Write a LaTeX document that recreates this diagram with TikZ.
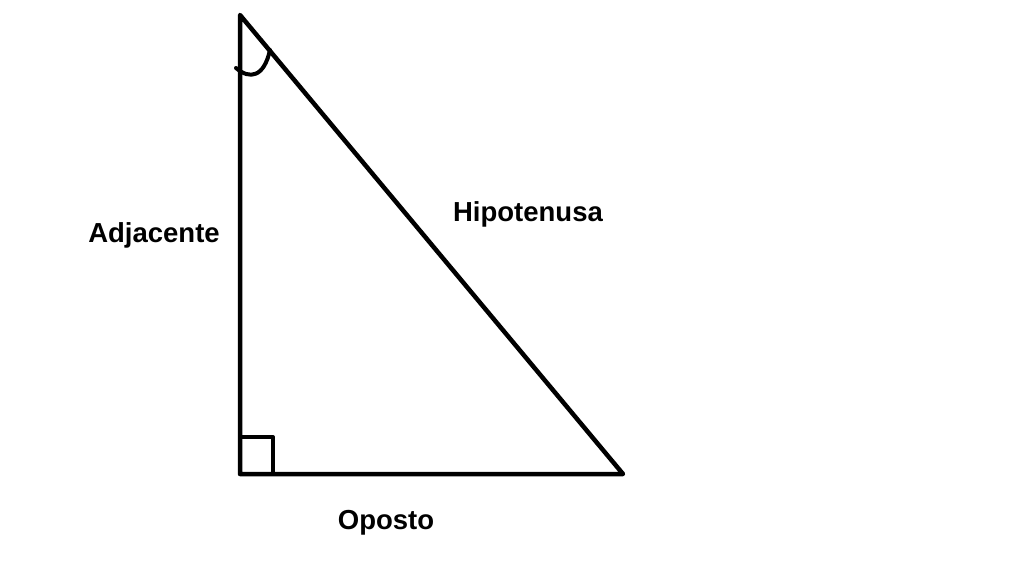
\documentclass[tikz,border=0pt]{standalone}
\usepackage{fontspec}
\setmainfont{Liberation Sans}
\usetikzlibrary{calc}

\begin{document}
\begin{tikzpicture}[x=1pt, y=-1pt, line width=4.5pt, line join=round,
	rotulo/.style={font=\fontsize{27.5}{32}\selectfont\bfseries, anchor=base, inner sep=0pt}]
	\useasboundingbox [fill=white] (0,0) rectangle (1018,570);
	\coordinate (A) at (240,15);
	\coordinate (B) at (240,474);
	\coordinate (C) at (623,474);
	\draw (A) -- (B) -- (C) -- cycle;
	\draw [line width=4pt] (B) rectangle ($(B)+(33,-37)$);
	\draw [line width=4pt, line cap=round] (236,68) .. controls (250,80) and (264,77) .. (270,50);
	\node [rotulo] (adj) at (154,242) {Adjacente};
	\node [rotulo] (hip) at (528,221) {Hipotenusa};
	\node [rotulo] (opo) at (386,529) {Oposto};
\end{tikzpicture}
\end{document}
